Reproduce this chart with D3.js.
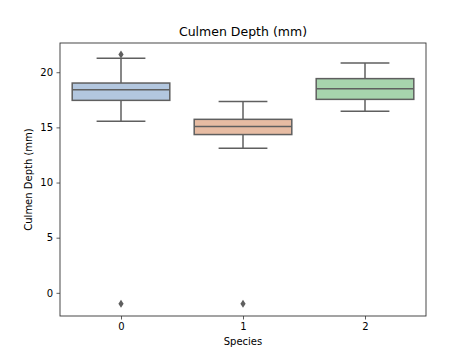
<!DOCTYPE html>
<html><head><meta charset="utf-8">
<script src="https://cdn.jsdelivr.net/npm/d3@7"></script>
<style>body{margin:0;background:#fff}svg{display:block}text{font-family:"DejaVu Sans",sans-serif;fill:#000}</style>
</head><body><svg id="c" width="474" height="355"></svg>
<script>
const categories = ["0", "1", "2"];
const q1 = [17.45, 14.35, 17.54];
const medians = [18.42, 15.07, 18.51];
const q3 = [19.02, 15.73, 19.42];
const whiskerLow = [15.55, 13.1, 16.46];
const whiskerHigh = [21.26, 17.34, 20.83];
const outliers = [[21.6, -1.0], [-1.0], []];
const colors = ["#b3c7df", "#e7bca3", "#a7d4ad"];
const yTicks = [0, 5, 10, 15, 20];

const svg = d3.select("#c");
const L = 60, R = 426, T = 43, B = 316;
const x = d3.scaleLinear().domain([-0.5, 2.5]).range([L, R]);
const y = d3.scaleLinear().domain([-2.1, 22.65]).range([B, T]);
const line = "#5f5f5f";
const bw = 0.8 * (x(1) - x(0));
const cw = bw / 2;

categories.forEach((c, i) => {
  const cx = x(i);
  const g = svg.append("g");
  g.append("line").attr("x1", cx).attr("x2", cx).attr("y1", y(q3[i])).attr("y2", y(whiskerHigh[i])).attr("stroke", line).attr("stroke-width", 1.5);
  g.append("line").attr("x1", cx).attr("x2", cx).attr("y1", y(q1[i])).attr("y2", y(whiskerLow[i])).attr("stroke", line).attr("stroke-width", 1.5);
  g.append("line").attr("x1", cx - cw / 2).attr("x2", cx + cw / 2).attr("y1", y(whiskerHigh[i])).attr("y2", y(whiskerHigh[i])).attr("stroke", line).attr("stroke-width", 1.5);
  g.append("line").attr("x1", cx - cw / 2).attr("x2", cx + cw / 2).attr("y1", y(whiskerLow[i])).attr("y2", y(whiskerLow[i])).attr("stroke", line).attr("stroke-width", 1.5);
  g.append("rect").attr("x", cx - bw / 2).attr("width", bw).attr("y", y(q3[i])).attr("height", y(q1[i]) - y(q3[i])).attr("fill", colors[i]).attr("stroke", line).attr("stroke-width", 1.5);
  g.append("line").attr("x1", cx - bw / 2).attr("x2", cx + bw / 2).attr("y1", y(medians[i])).attr("y2", y(medians[i])).attr("stroke", line).attr("stroke-width", 1.5);
  outliers[i].forEach(v => {
    const py = y(v);
    g.append("path").attr("d", `M${cx},${py - 4}L${cx + 2.6},${py}L${cx},${py + 4}L${cx - 2.6},${py}Z`).attr("fill", line);
  });
});

// frame
svg.append("rect").attr("x", L).attr("y", T).attr("width", R - L).attr("height", B - T).attr("fill", "none").attr("stroke", "#333").attr("stroke-width", 0.9);

const ya = svg.append("g").attr("transform", `translate(${L},0)`).call(d3.axisLeft(y).tickValues(yTicks).tickSize(3.5).tickPadding(3.5));
const xa = svg.append("g").attr("transform", `translate(0,${B})`).call(d3.axisBottom(x).tickValues([0, 1, 2]).tickFormat(d => categories[d]).tickSize(3.5).tickPadding(3.5));
[ya, xa].forEach(a => {
  a.select(".domain").remove();
  a.selectAll(".tick line").attr("stroke", "#333").attr("stroke-width", 0.8);
  a.selectAll(".tick text").style("font-size", "10px").style("font-family", "DejaVu Sans").attr("fill", "#000");
});

svg.append("text").attr("x", (L + R) / 2).attr("y", 36).attr("text-anchor", "middle").style("font-size", "12.5px").text("Culmen Depth (mm)");
svg.append("text").attr("x", (L + R) / 2).attr("y", 345).attr("text-anchor", "middle").style("font-size", "10px").text("Species");
svg.append("text").attr("transform", `translate(32,${(T + B) / 2}) rotate(-90)`).attr("text-anchor", "middle").style("font-size", "10px").text("Culmen Depth (mm)");
</script></body></html>
